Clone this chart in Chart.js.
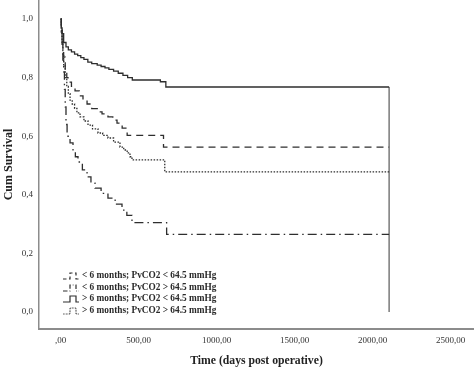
<!DOCTYPE html>
<html>
<head>
<meta charset="utf-8">
<script src="https://cdn.jsdelivr.net/npm/chart.js@4.4.1/dist/chart.umd.min.js"></script>
<style>
  html, body { margin: 0; padding: 0; background: #fff; }
  #wrap { position: relative; width: 474px; height: 368px; }
  #legend { position: absolute; left: 62px; top: 270px; font-family: "Liberation Serif", serif; font-size: 9.3px; font-weight: bold; color: #2a2a2a; }
  .row { height: 11.7px; line-height: 11.7px; white-space: nowrap; display: flex; align-items: center; }
  .row svg { width: 20px; height: 10px; margin-right: 0px; }
</style>
</head>
<body>
<div id="wrap">
  <canvas id="c" width="474" height="368"></canvas>
  <div id="legend"></div>
</div>
<script>
// ---- Data ----
const seriesLabels = [
  "< 6 months; PvCO2 < 64.5 mmHg",
  "< 6 months; PvCO2 > 64.5 mmHg",
  "> 6 months; PvCO2 < 64.5 mmHg",
  "> 6 months; PvCO2 > 64.5 mmHg"
];
// <6 months, PvCO2 < 64.5 (dashed)
const daysA = [0, 5, 10, 15, 20, 30, 40, 48, 70, 93, 120, 144, 170, 200, 240, 266, 304, 335, 362, 395, 427, 660, 2106];
const survA = [1.0, 0.97, 0.94, 0.90, 0.87, 0.83, 0.80, 0.785, 0.77, 0.755, 0.738, 0.724, 0.71, 0.694, 0.683, 0.676, 0.666, 0.655, 0.645, 0.628, 0.603, 0.563, 0.563];
// <6 months, PvCO2 > 64.5 (dash-dot)
const daysB = [0, 5, 10, 15, 20, 25, 30, 35, 42, 61, 80, 95, 112, 140, 170, 195, 221, 260, 304, 350, 394, 425, 458, 680, 2106];
const survB = [1.0, 0.95, 0.90, 0.86, 0.82, 0.76, 0.70, 0.64, 0.60, 0.577, 0.55, 0.53, 0.512, 0.485, 0.461, 0.44, 0.423, 0.405, 0.389, 0.368, 0.348, 0.33, 0.305, 0.265, 0.265];
// >6 months, PvCO2 < 64.5 (solid)
const daysC = [0, 5, 10, 20, 35, 50, 70, 90, 110, 130, 150, 175, 200, 235, 260, 285, 310, 340, 370, 400, 430, 460, 640, 675, 2106];
const survC = [1.0, 0.97, 0.95, 0.92, 0.905, 0.895, 0.888, 0.88, 0.875, 0.868, 0.862, 0.853, 0.848, 0.843, 0.838, 0.833, 0.828, 0.822, 0.815, 0.808, 0.80, 0.792, 0.786, 0.768, 0.768];
// >6 months, PvCO2 > 64.5 (dotted)
const daysD = [0, 5, 10, 15, 20, 30, 40, 50, 61, 75, 90, 105, 125, 150, 176, 205, 240, 270, 304, 340, 381, 405, 427, 445, 458, 668, 2106];
const survD = [1.0, 0.96, 0.92, 0.88, 0.84, 0.80, 0.77, 0.745, 0.723, 0.71, 0.695, 0.68, 0.666, 0.652, 0.638, 0.625, 0.611, 0.603, 0.594, 0.58, 0.563, 0.553, 0.543, 0.53, 0.519, 0.478, 0.478];
// final vertical drop line at end of follow-up
const daysEnd = [2106, 2106];
const survEnd = [0.768, 0.0];

const xTickValues = [0, 500, 1000, 1500, 2000, 2500];
const yTickValues = [0, 0.2, 0.4, 0.6, 0.8, 1.0];
const xTitle = "Time (days post operative)";
const yTitle = "Cum Survival";

// ---- Build ----
const pts = (d, v) => d.map((x, i) => ({ x: x, y: v[i] }));
const ink = "#2e2e2e";
const styles = [
  { dash: [7, 5], width: 1.3 },
  { dash: [9, 4, 1.5, 4], width: 1.3 },
  { dash: [], width: 1.3 },
  { dash: [1.5, 1.5], width: 1.3 }
];
const seriesData = [pts(daysA, survA), pts(daysB, survB), pts(daysC, survC), pts(daysD, survD)];

const datasets = seriesData.map((d, i) => ({
  label: seriesLabels[i],
  data: d,
  borderColor: ink,
  borderWidth: styles[i].width,
  borderDash: styles[i].dash,
  stepped: 'before',
  pointRadius: 0,
  fill: false
}));
datasets.push({
  label: "end",
  data: pts(daysEnd, survEnd),
  borderColor: "#7a7a7a",
  borderWidth: 1.5,
  pointRadius: 0,
  fill: false
});

const serif = "'Liberation Serif', 'Times New Roman', serif";
const fmtX = v => (v === 0 ? ",00" : v.toFixed(2).replace(".", ","));
const fmtY = v => v.toFixed(1).replace(".", ",");

new Chart(document.getElementById("c"), {
  type: "line",
  data: { datasets },
  options: {
    responsive: false,
    animation: false,
    layout: { padding: 0, autoPadding: false },
    plugins: { legend: { display: false }, tooltip: { enabled: false } },
    scales: {
      x: {
        type: "linear",
        min: -138,
        max: 2650,
        afterBuildTicks: s => { s.ticks = xTickValues.map(v => ({ value: v })); },
        afterFit: s => { s.height = 39; s.paddingLeft = 0; s.paddingRight = 0; },
        grid: { display: false, drawTicks: false },
        border: { display: true, color: "#8c8c8c", width: 2 },
        ticks: { callback: v => fmtX(v), font: { family: serif, size: 9 }, color: "#333", padding: 6, maxRotation: 0, autoSkip: false },
        title: { display: true, text: xTitle, font: { family: serif, size: 11.7, weight: "bold" }, color: "#222", padding: { top: 0, bottom: 0 } }
      },
      y: {
        type: "linear",
        min: -0.058,
        max: 1.065,
        afterBuildTicks: s => { s.ticks = yTickValues.map(v => ({ value: v })); },
        afterFit: s => { s.width = 39; s.paddingTop = 0; s.paddingBottom = 0; },
        grid: { display: false, drawTicks: false },
        border: { display: true, color: "#8c8c8c", width: 1.5 },
        ticks: { callback: v => fmtY(v), font: { family: serif, size: 9 }, color: "#333", padding: 6, autoSkip: false },
        title: { display: true, text: yTitle, font: { family: serif, size: 12, weight: "bold" }, color: "#222", padding: { top: 2, bottom: 0 } }
      }
    }
  }
});

// ---- HTML legend (inside plot, lower-left) ----
const legendOrder = [0, 1, 2, 3];
const lg = document.getElementById("legend");
legendOrder.forEach(i => {
  const row = document.createElement("div");
  row.className = "row";
  const dash = styles[i].dash.length ? styles[i].dash.map(v => v * 0.5).join(",") : "none";
  row.innerHTML = '<svg viewBox="0 0 20 10"><path d="M1,8 H8 V2 H14 V8 H17" fill="none" stroke="' + ink + '" stroke-width="1.2" stroke-dasharray="' + dash + '"/></svg><span>' + seriesLabels[i] + '</span>';
  lg.appendChild(row);
});
</script>
</body>
</html>
